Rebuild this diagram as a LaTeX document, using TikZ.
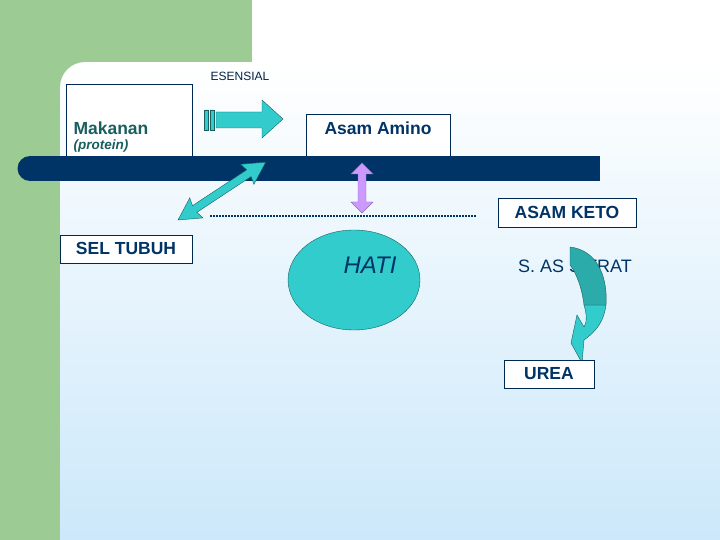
\documentclass[tikz,border=0pt]{standalone}
\usepackage{fontspec}
\setmainfont{Liberation Sans}
\usetikzlibrary{arrows.meta}
\definecolor{grn}{HTML}{9CCB94}
\definecolor{navy}{HTML}{003366}
\definecolor{tealf}{HTML}{33CCCC}
\definecolor{tealt}{HTML}{1A5F5F}
\definecolor{lblue}{HTML}{CCE8FA}
\definecolor{purp}{HTML}{CC99FF}
\tikzset{lbl/.style={draw=navy!80!black,fill=white,line width=0.6pt,inner sep=0pt},
 txt/.style={font=\bfseries\fontsize{17.5}{20}\selectfont,text=navy}}
\begin{document}
\begin{tikzpicture}[x=1pt,y=-1pt]
\useasboundingbox (0,0) rectangle (720,540);
\fill[white] (0,0) rectangle (720,62);
\shade[top color=white,bottom color=lblue] (60,62) rectangle (720,540);
\fill[grn] (0,0) rectangle (252,62);
\fill[grn] (0,0) rectangle (60,540);
\fill[grn] (60,62) -- (85,62) arc[start angle=270,end angle=180,radius=25] -- cycle;
% boxes
\node[lbl,minimum width=126,minimum height=72] (mak) at (129,120) {};
\node[anchor=west,font=\bfseries\fontsize{17.5}{20}\selectfont,text=tealt] (makt) at (70,128) {Makanan};
\node[anchor=west,font=\bfseries\itshape\fontsize{13.5}{15}\selectfont,text=tealt] (prot) at (70,146) {(protein)};
\node[font=\fontsize{12}{14}\selectfont,text=navy!70!black] (es) at (240,76) {ESENSIAL};
\node[lbl,minimum width=144,minimum height=42] (aa) at (378,135) {};
\node[txt] (aat) at (378,128) {Asam Amino};
% block arrow
\draw[tealt,fill=tealf,line width=0.4pt] (204,110) rectangle (208,130) (210,110) rectangle (214,130);
\draw[tealt,fill=tealf,line width=0.4pt] (216,112) -- (262,112) -- (262,100) -- (283,119) -- (262,138) -- (262,128) -- (216,128) -- cycle;
% navy bar
\fill[navy] (30,156) rectangle (600,181);
\fill[navy] (30,168.5) circle[radius=12.5];
% teal double arrow
\coordinate (da1) at (178,220);
\coordinate (da2) at (266,162);
\draw[tealt,fill=tealf,line width=0.4pt,shift={(da1)},rotate=33.4]
 (0,0) -- (22,-12) -- (20,-4) -- (85,-4) -- (83,-12) -- (105,0) -- (83,12) -- (85,4) -- (20,4) -- (22,12) -- cycle;
% purple double arrow
\draw[purp!70!black,fill=purp,line width=0.4pt] (362,163) -- (373,174) -- (366,174) -- (366,202) -- (373,202) -- (362,213) -- (351,202) -- (358,202) -- (358,174) -- (351,174) -- cycle;
% dotted line
\draw[navy,line width=2.2pt,dash pattern=on 1.6pt off 1.4pt] (210,216) -- (476,216);
\node[lbl,minimum width=138,minimum height=29] (ak) at (567,212.5) {};
\node[txt] (akt) at (567,212) {ASAM KETO};
\node[lbl,minimum width=132,minimum height=28] (st) at (126,249) {};
\node[txt] (stt) at (126,248) {SEL TUBUH};
% HATI
\draw[tealt,fill=tealf,line width=0.4pt] (354,280) ellipse[x radius=66,y radius=50];
\node[font=\itshape\fontsize{24}{26}\selectfont,text=navy] (hati) at (370,265) {HATI};
\node[font=\fontsize{18}{20}\selectfont,text=navy] (sit) at (575,266) {S. AS SITRAT};
% curved arrow
\draw[tealt,fill=tealf,line width=0.4pt] (606,305) .. controls (604,320) and (598,330) .. (584,340) -- (582,363) -- (571,343) -- (577,315) -- (584,327) .. controls (588,320) and (586,312) .. (584,305) -- cycle;
\draw[tealt,fill=tealf!70!tealt,line width=0.4pt] (570,247) .. controls (596,250) and (608,275) .. (606,305) -- (584,305)
 .. controls (582,288) and (576,272) .. (570,265) -- cycle;
\node[lbl,minimum width=90,minimum height=28] (ur) at (549,374) {};
\node[txt] (urt) at (549,374) {UREA};
\end{tikzpicture}
\end{document}
